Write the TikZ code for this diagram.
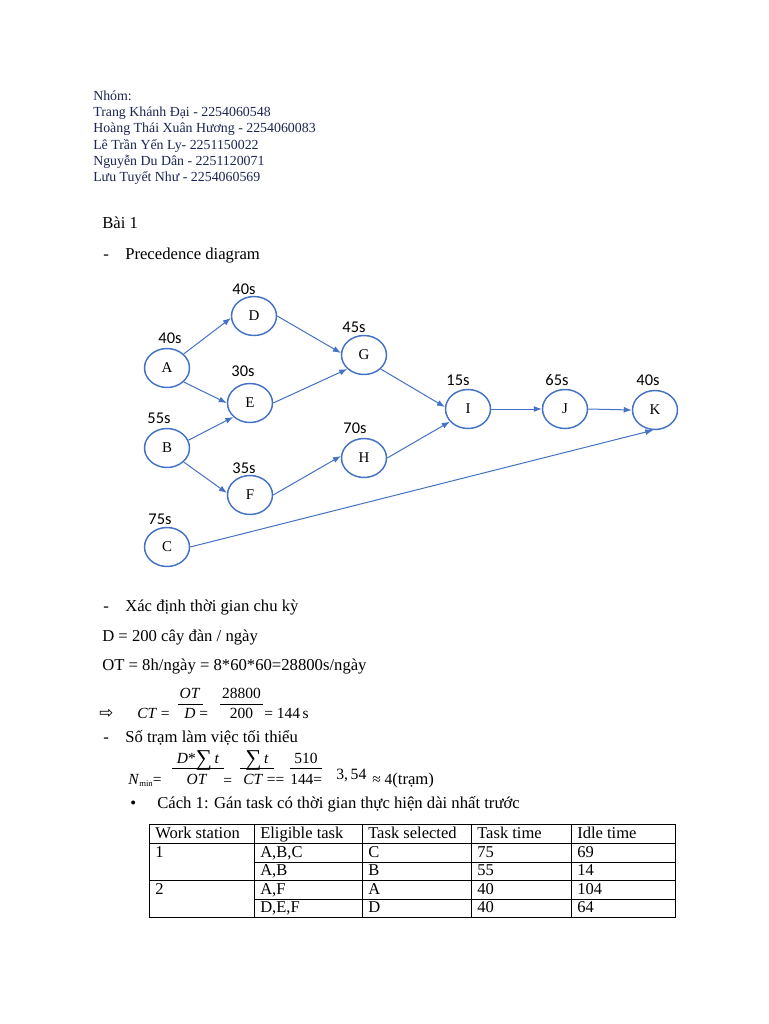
\documentclass[tikz,border=0pt]{standalone}
\usepackage{fontspec}
\setmainfont{Liberation Serif}
\newfontfamily\labfont{Carlito}
\newfontfamily\symfont{DejaVu Sans}
\usetikzlibrary{shapes.geometric,arrows.meta}
\definecolor{edgeblue}{RGB}{68,114,196}
\definecolor{navytext}{RGB}{28,38,84}
\tikzset{
  task/.style={ellipse, draw=edgeblue, line width=1.1pt, minimum width=33.75pt, minimum height=29.25pt, inner sep=0pt, font=\fontsize{11.2}{13}\selectfont},
  flow/.style={draw=edgeblue, line width=0.75pt, -{Latex[length=6pt,width=4.5pt]}},
  dur/.style={inner sep=0pt, font=\labfont\fontsize{12.3}{14}\selectfont},
  txt/.style={anchor=base west, inner sep=0pt, font=\fontsize{12.5}{15}\selectfont},
  ctr/.style={anchor=base, inner sep=0pt, font=\fontsize{11.6}{14}\selectfont},
  ftxt/.style={anchor=base west, inner sep=0pt, font=\fontsize{11.6}{14}\selectfont},
  hdr/.style={anchor=base west, inner sep=0pt, text=navytext, font=\fontsize{10.4}{12}\selectfont},
  cell/.style={anchor=base west, inner sep=0pt, font=\fontsize{12.4}{14}\selectfont},
  fracbar/.style={line width=0.6pt},
  tab/.style={line width=0.75pt}
}
\begin{document}
\begin{tikzpicture}[x=0.75pt,y=-0.75pt]
\fill[white] (0,0) rectangle (768,1024);
\useasboundingbox (0,0) rectangle (768,1024);

% header
\node[hdr] (h0) at (93,100) {Nhóm:};
\node[hdr] (h1) at (93,116.5) {Trang Khánh Đại - 2254060548};
\node[hdr] (h2) at (93,132.8) {Hoàng Thái Xuân Hương - 2254060083};
\node[hdr] (h3) at (93,149.1) {Lê Trần Yến Ly- 2251150022};
\node[hdr] (h4) at (93,165.4) {Nguyễn Du Dân - 2251120071};
\node[hdr] (h5) at (93,181.7) {Lưu Tuyết Như - 2254060569};

\node[txt] (bai) at (102,228) {Bài 1};
\node[txt] (d1) at (103,259) {-};
\node[txt] (pd) at (125,259) {Precedence diagram};

% diagram nodes
\node[task] (A) at (167,368) {A};
\node[task] (B) at (167,448) {B};
\node[task] (C) at (167,547) {C};
\node[task] (D) at (254,316) {D};
\node[task] (E) at (250,403) {E};
\node[task] (F) at (250,495) {F};
\node[task] (G) at (364,355) {G};
\node[task] (H) at (364,458) {H};
\node[task] (I) at (468,409) {I};
\node[task] (J) at (565,409) {J};
\node[task] (K) at (655,410) {K};

\node[dur] (tA) at (170,338) {40s};
\node[dur] (tB) at (159,418) {55s};
\node[dur] (tC) at (160,519) {75s};
\node[dur] (tD) at (244,289) {40s};
\node[dur] (tE) at (243,371) {30s};
\node[dur] (tF) at (244,468) {35s};
\node[dur] (tG) at (354,327) {45s};
\node[dur] (tH) at (355,428) {70s};
\node[dur] (tI) at (458,380) {15s};
\node[dur] (tJ) at (557,380) {65s};
\node[dur] (tK) at (648,380) {40s};

\draw[flow] (A.40) -- (D.185);
\draw[flow] (A.-40) -- (E.west);
\draw[flow] (B.20) -- (E.220);
\draw[flow] (B.-40) -- (F.175);
\draw[flow] (D.east) -- (G.175);
\draw[flow] (E.east) -- (G.220);
\draw[flow] (F.east) -- (H.175);
\draw[flow] (G.-40) -- (I.175);
\draw[flow] (H.east) -- (I.215);
\draw[flow] (I.east) -- (J.west);
\draw[flow] (J.east) -- (K.west);
\draw[flow] (C.east) -- (K.265);

% cycle time
\node[txt] (d2) at (103,611) {-};
\node[txt] (xd) at (125,611) {Xác định thời gian chu kỳ};
\node[txt] (dd) at (102,641) {D = 200 cây đàn / ngày};
\node[txt] (ot) at (102,670.5) {OT = 8h/ngày = 8*60*60=28800s/ngày};

\node[ftxt, font=\symfont\fontsize{12.5}{14}\selectfont] (arr) at (99,718) {⇨};
\node[ftxt] (ct) at (137,718) {\textit{CT} =};
\node[ctr] (otn) at (190,698) {\textit{OT}};
\draw[fracbar] (178,704) -- (203,704);
\node[ftxt] (dden) at (184,718) {\textit{D} =};
\node[ctr] (n288) at (241.5,698) {28800};
\draw[fracbar] (220,704) -- (263,704);
\node[ctr] (d200) at (241.5,718) {200};
\node[ftxt] (r144) at (264,718) {= 144\,s};

% minimum stations
\node[txt] (d3) at (103,742) {-};
\node[txt] (st) at (125,742) {Số trạm làm việc tối thiểu};

\node[ftxt] (nmin) at (128,784) {\textit{N}\raisebox{-1.5pt}{\fontsize{6.5}{7}\selectfont min}=};
\node[ctr] (num1) at (198,763) {\textit{D}*\raisebox{-1.5pt}{\fontsize{17}{17}\selectfont ∑}\,\textit{t}};
\draw[fracbar] (172,768) -- (224,768);
\node[ctr] (den1) at (197,784) {\textit{OT}};
\node[ftxt] (eq1) at (223,785) {=};
\node[ctr] (num2) at (257,763) {\raisebox{-1.5pt}{\fontsize{17}{17}\selectfont ∑}\,\textit{t}};
\draw[fracbar] (240,768) -- (274,768);
\node[ftxt] (den2) at (243,784) {\textit{CT} ==};
\node[ctr] (num3) at (306,763) {510};
\draw[fracbar] (290,768) -- (322,768);
\node[ftxt] (den3) at (290,784) {144=};
\node[ftxt, font=\fontsize{11.8}{13}\selectfont] (v354) at (336,779) {3,\,54};
\node[ftxt] (appr) at (372,784) {≈ 4\fontsize{12.5}{14}\selectfont(trạm)};

\node[txt] (bul) at (130,808) {•};
\node[txt] (cach) at (157,808) {Cách 1: Gán task có thời gian thực hiện dài nhất trước};

% table
\draw[tab] (149,824) rectangle (675,917);
\draw[tab] (149,843) -- (675,843);
\draw[tab] (254,862) -- (675,862);
\draw[tab] (149,880) -- (675,880);
\draw[tab] (254,899) -- (675,899);
\foreach \cx in {254,362,471,571} \draw[tab] (\cx,824) -- (\cx,917);

\node[cell] (c11) at (155,838) {Work station};
\node[cell] (c12) at (260,838) {Eligible task};
\node[cell] (c13) at (368,838) {Task selected};
\node[cell] (c14) at (477,838) {Task time};
\node[cell] (c15) at (577,838) {Idle time};

\node[cell] (c21) at (155,857) {1};
\node[cell] (c22) at (260,857) {A,B,C};
\node[cell] (c23) at (368,857) {C};
\node[cell] (c24) at (477,857) {75};
\node[cell] (c25) at (577,857) {69};

\node[cell] (c32) at (260,875.5) {A,B};
\node[cell] (c33) at (368,875.5) {B};
\node[cell] (c34) at (477,875.5) {55};
\node[cell] (c35) at (577,875.5) {14};

\node[cell] (c41) at (155,894) {2};
\node[cell] (c42) at (260,894) {A,F};
\node[cell] (c43) at (368,894) {A};
\node[cell] (c44) at (477,894) {40};
\node[cell] (c45) at (577,894) {104};

\node[cell] (c52) at (260,912.5) {D,E,F};
\node[cell] (c53) at (368,912.5) {D};
\node[cell] (c54) at (477,912.5) {40};
\node[cell] (c55) at (577,912.5) {64};
\end{tikzpicture}
\end{document}
